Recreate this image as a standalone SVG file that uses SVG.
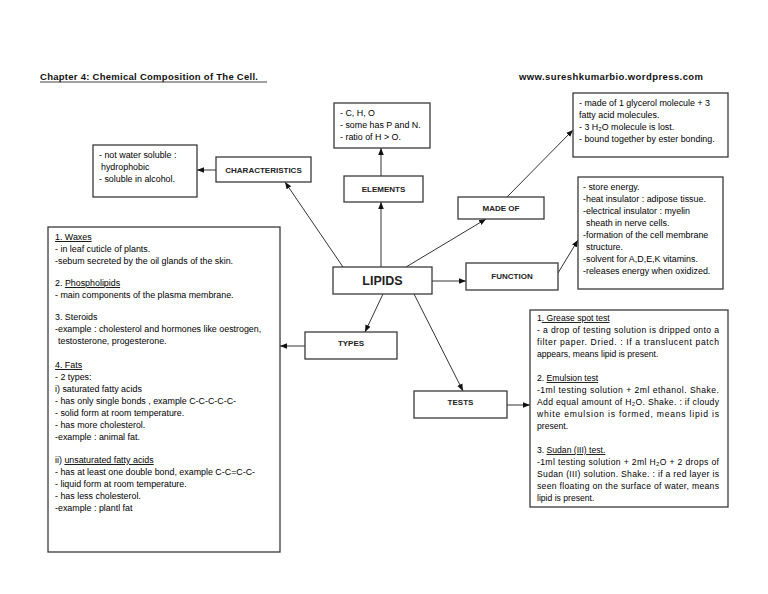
<svg xmlns="http://www.w3.org/2000/svg" width="768" height="594" viewBox="0 0 768 594">
<style>
.bx{fill:#fff;stroke:#3a3a3a;stroke-width:1.3}
.t{font-family:"Liberation Sans",Arial,sans-serif;font-size:8.9px;fill:#000}
.tt{font-family:"Liberation Sans",Arial,sans-serif;font-size:8.6px;fill:#000}
.lb{font-family:"Liberation Sans",Arial,sans-serif;font-size:8px;font-weight:bold;fill:#222;text-anchor:middle}
.hd{font-family:"Liberation Sans",Arial,sans-serif;font-size:9.5px;font-weight:bold;fill:#111}
.u{text-decoration:underline}
.cn line{stroke:#333;stroke-width:1;marker-end:url(#ah)}
</style>
<defs>
<marker id="ah" viewBox="0 0 10 10" refX="10" refY="5" markerWidth="7" markerHeight="7" orient="auto" markerUnits="userSpaceOnUse">
<path d="M0,1 L10,5 L0,9 z" fill="#111"/>
</marker>
</defs>
<rect width="768" height="594" fill="#fff"/>

<g id="header">
<text class="hd" x="40" y="80" textLength="218">Chapter 4: Chemical Composition of The Cell.</text>
<line x1="40" y1="82" x2="267" y2="82" stroke="#111" stroke-width="0.8"/>
<text class="hd" x="519" y="80" textLength="184">www.sureshkumarbio.wordpress.com</text>
</g>

<g class="cn" id="connectors">
<line x1="343" y1="267" x2="285" y2="182"/>
<line x1="216" y1="170" x2="197" y2="170"/>
<line x1="381" y1="267" x2="381" y2="202"/>
<line x1="381" y1="176" x2="381" y2="148"/>
<line x1="406" y1="267" x2="486" y2="219"/>
<line x1="507" y1="197" x2="573" y2="130"/>
<line x1="432" y1="281" x2="466" y2="281"/>
<line x1="558" y1="273" x2="578" y2="240"/>
<line x1="383" y1="294" x2="365" y2="332"/>
<line x1="305" y1="346" x2="280" y2="346"/>
<line x1="414" y1="294" x2="463" y2="391"/>
<line x1="507" y1="405" x2="530" y2="405"/>
</g>

<g id="lipids">
<rect class="bx" x="333" y="267" width="99" height="27"/>
<text class="lb" x="382.5" y="285" style="font-size:12.5px">LIPIDS</text>
</g>

<g id="characteristics">
<rect class="bx" x="216" y="157" width="95" height="25"/>
<text class="lb" x="263.5" y="172.5">CHARACTERISTICS</text>
</g>
<g id="characteristics-info">
<rect class="bx" x="93" y="145" width="104" height="52"/>
<text class="t" x="99" y="158">- not water soluble :</text>
<text class="t" x="101" y="170">hydrophobic</text>
<text class="t" x="99" y="182">- soluble in alcohol.</text>
</g>

<g id="elements">
<rect class="bx" x="344" y="176" width="79" height="26"/>
<text class="lb" x="383.5" y="192">ELEMENTS</text>
</g>
<g id="elements-info">
<rect class="bx" x="334" y="103" width="96" height="45"/>
<text class="t" x="340" y="116">- C, H, O</text>
<text class="t" x="340" y="128">- some has P and N.</text>
<text class="t" x="340" y="140">- ratio of H &gt; O.</text>
</g>

<g id="made-of">
<rect class="bx" x="458" y="197" width="86" height="22"/>
<text class="lb" x="501" y="211">MADE OF</text>
</g>
<g id="made-of-info">
<rect class="bx" x="573" y="93" width="155" height="64"/>
<text class="t" x="579" y="106">- made of 1 glycerol molecule + 3</text>
<text class="t" x="579" y="118">fatty acid molecules.</text>
<text class="t" x="579" y="130">- 3 H₂O molecule is lost.</text>
<text class="t" x="579" y="142">- bound together by ester bonding.</text>
</g>

<g id="function">
<rect class="bx" x="466" y="263" width="92" height="27"/>
<text class="lb" x="512" y="279">FUNCTION</text>
</g>
<g id="function-info">
<rect class="bx" x="578" y="177" width="145" height="112"/>
<text class="t" x="583" y="190">- store energy.</text>
<text class="t" x="583" y="202">-heat insulator : adipose tissue.</text>
<text class="t" x="583" y="214">-electrical insulator :  myelin</text>
<text class="t" x="586" y="226">sheath in nerve cells.</text>
<text class="t" x="583" y="238">-formation of the cell membrane</text>
<text class="t" x="586" y="250">structure.</text>
<text class="t" x="583" y="262">-solvent for A,D,E,K vitamins.</text>
<text class="t" x="583" y="274">-releases energy when oxidized.</text>
</g>

<g id="types">
<rect class="bx" x="305" y="332" width="92" height="27"/>
<text class="lb" x="351" y="346">TYPES</text>
</g>
<g id="types-info">
<rect class="bx" x="48" y="227" width="232" height="325"/>
<text class="t" x="55" y="240"><tspan class="u">1. Waxes</tspan></text>
<text class="t" x="55" y="252">- in leaf cuticle of plants.</text>
<text class="t" x="55" y="264">-sebum secreted by the oil glands of the skin.</text>
<text class="t" x="55" y="286">2. <tspan class="u">Phospholipids</tspan></text>
<text class="t" x="55" y="298">- main components of the  plasma membrane.</text>
<text class="t" x="55" y="320">3. Steroids</text>
<text class="t" x="55" y="332">-example : cholesterol and hormones like oestrogen,</text>
<text class="t" x="58" y="344">testosterone, progesterone.</text>
<text class="t" x="55" y="368"><tspan class="u">4. Fats</tspan></text>
<text class="t" x="55" y="380">- 2 types:</text>
<text class="t" x="55" y="392">i) saturated fatty acids</text>
<text class="t" x="55" y="404">- has only single bonds , example C-C-C-C-C-</text>
<text class="t" x="55" y="416">- solid form at room temperature.</text>
<text class="t" x="55" y="428">- has more cholesterol.</text>
<text class="t" x="55" y="440">-example : animal fat.</text>
<text class="t" x="55" y="463">ii) <tspan class="u">unsaturated fatty acids</tspan></text>
<text class="t" x="55" y="475">- has at least one double bond, example C-C=C-C-</text>
<text class="t" x="55" y="487">- liquid  form at room temperature.</text>
<text class="t" x="55" y="499">- has less cholesterol.</text>
<text class="t" x="55" y="511">-example : plantl fat</text>
</g>

<g id="tests">
<rect class="bx" x="414" y="391" width="93" height="27"/>
<text class="lb" x="460.5" y="405">TESTS</text>
</g>
<g id="tests-info">
<rect class="bx" x="530" y="310" width="198" height="197"/>
<text class="tt" x="537" y="321">1<tspan class="u">. Grease spot test</tspan></text>
<text class="tt" x="537" y="333" textLength="182">- a drop of testing solution is dripped onto a</text>
<text class="tt" x="537" y="345" textLength="182">filter paper. Dried. : If a translucent patch</text>
<text class="tt" x="537" y="357">appears, means lipid is present.</text>
<text class="tt" x="537" y="381">2. <tspan class="u">Emulsion test</tspan></text>
<text class="tt" x="537" y="393" textLength="182">-1ml testing solution + 2ml ethanol. Shake.</text>
<text class="tt" x="537" y="405" textLength="182">Add equal amount of H₂O. Shake. : if cloudy</text>
<text class="tt" x="537" y="417" textLength="182">white emulsion is formed, means lipid is</text>
<text class="tt" x="537" y="429">present.</text>
<text class="tt" x="537" y="453">3.  <tspan class="u">Sudan (III) test.</tspan></text>
<text class="tt" x="537" y="465" textLength="182">-1ml testing solution + 2ml H₂O + 2 drops of</text>
<text class="tt" x="537" y="477" textLength="182">Sudan (III) solution. Shake. : if a red layer is</text>
<text class="tt" x="537" y="489" textLength="182">seen floating on the surface of water, means</text>
<text class="tt" x="537" y="501">lipid is present.</text>
</g>
</svg>
